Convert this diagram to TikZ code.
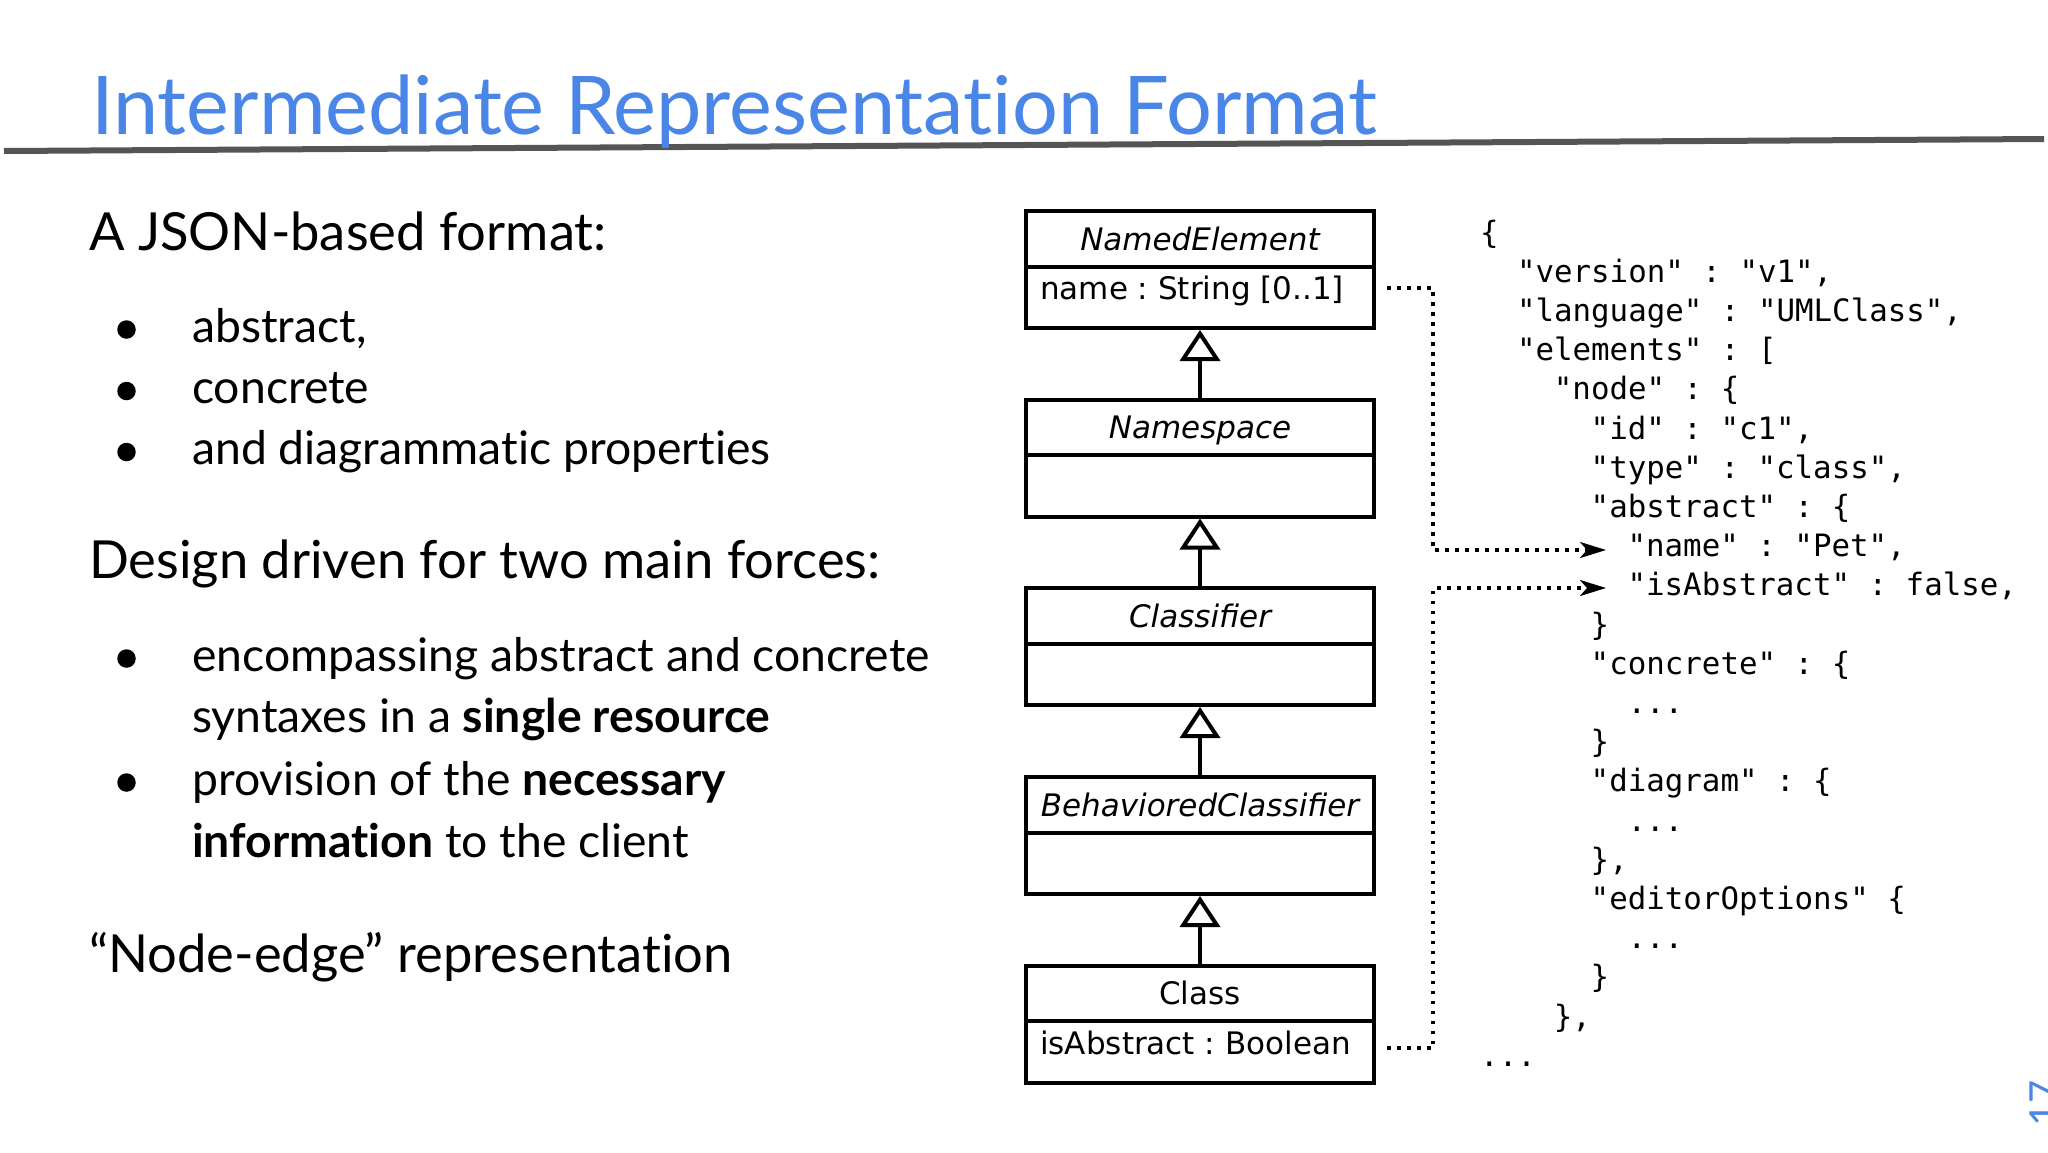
\documentclass[tikz,border=0pt]{standalone}
\usepackage{fontspec}
\setmainfont{Lato}[Ligatures={TeX,NoCommon}]
\newfontfamily\titlefont{Lato}[Ligatures={TeX,NoCommon}]
\newfontfamily\umlfont{DejaVu Sans}
\newfontfamily\monofont{DejaVu Sans Mono}
\usetikzlibrary{arrows.meta,calc}
\definecolor{titleblue}{RGB}{74,134,232}
\definecolor{rulegray}{RGB}{85,85,85}
\tikzset{
  body/.style={anchor=base west, inner sep=0pt, font=\fontsize{52.5}{60}\selectfont},
  subbody/.style={anchor=base west, inner sep=0pt, font=\fontsize{46.3}{56}\selectfont},
  bul/.style={circle, fill=black, inner sep=0pt, minimum size=18.5pt},
  cls/.style={draw, line width=4pt, minimum width=348pt, minimum height=117pt, inner sep=0pt},
  divline/.style={line width=4pt},
  hdr/.style={anchor=base, inner sep=0pt, font=\umlfont\fontsize{31}{36}\selectfont},
  attr/.style={anchor=base west, inner sep=0pt, font=\umlfont\fontsize{31}{36}\selectfont},
  gen/.style={line width=4pt, -{Triangle[open, length=31pt, width=40pt]}},
  json/.style={anchor=base west, inner sep=0pt, font=\monofont\fontsize{30.8}{38}\selectfont},
  dotconn/.style={line width=3.5pt, dash pattern=on 3.5pt off 6.5pt, -{Stealth[length=26pt, width=16pt, inset=7pt]}},
}
\begin{document}
\frenchspacing
\begin{tikzpicture}[x=1pt,y=-1pt]
\useasboundingbox (0,0) rectangle (2048,1152);
\fill[white] (0,0) rectangle (2048,1152);

% title
\draw[rulegray, line width=6pt] (4,151) -- (2044,139);
\node[anchor=base west, inner sep=0pt, text=titleblue, font=\titlefont\fontsize{81}{90}\selectfont] (title) at (91,134.5) {Intermediate Representation Format};

% left text
\node[body] (t1) at (89,250) {A JSON-based format:};
\node[bul] (b1) at (126.5,329.5) {};
\node[subbody] (t2) at (192,342) {abstract,};
\node[bul] (b2) at (126.5,391) {};
\node[subbody] (t3) at (192,403.5) {concrete};
\node[bul] (b3) at (126.5,452) {};
\node[subbody] (t4) at (192,464.5) {and diagrammatic properties};
\node[body] (t5) at (89,578) {Design driven for two main forces:};
\node[bul] (b4) at (126.5,658.5) {};
\node[subbody] (t6) at (192,671) {encompassing abstract and concrete};
\node[subbody] (t7) at (192,732) {syntaxes in a \textbf{single resource}};
\node[bul] (b5) at (126.5,782.5) {};
\node[subbody] (t8) at (192,795) {provision of the \textbf{necessary}};
\node[subbody] (t9) at (192,857) {\textbf{information} to the client};
\node[body] (t10) at (89,972) {“Node-edge” representation};

% UML classes
\node[cls] (c1) at (1200,269.5) {};
\node[cls] (c2) at (1200,458) {};
\node[cls] (c3) at (1200,646.5) {};
\node[cls] (c4) at (1200,835.5) {};
\node[cls] (c5) at (1200,1024) {};
\foreach \c in {c1,c2,c3,c4,c5}{
  \draw[divline] ($(\c.north west)+(2,57.5)$) -- ($(\c.north east)+(-2,57.5)$);
}
\node[hdr] (h1) at (1200,250) {\itshape NamedElement};
\node[hdr] (h2) at (1200,438.5) {\itshape Namespace};
\node[hdr] (h3) at (1200,627) {\itshape Classifier};
\node[hdr] (h4) at (1200,816) {\itshape BehavioredClassifier};
\node[hdr] (h5) at (1200,1004.5) {Class};
\node[attr] (a1) at (1040,299.5) {name : String [0..1]};
\node[attr] (a5) at (1040,1054) {isAbstract : Boolean};

\draw[gen] (c2.north) -- (c1.south);
\draw[gen] (c3.north) -- (c2.south);
\draw[gen] (c4.north) -- (c3.south);
\draw[gen] (c5.north) -- (c4.south);

% JSON
\node[json] (j0) at (1480,243) {\{};
\node[json] (j1) at (1516.8,282.2) {"version" : "v1",};
\node[json] (j2) at (1516.8,321.4) {"language" : "UMLClass",};
\node[json] (j3) at (1516.8,360.6) {"elements" : [};
\node[json] (j4) at (1553.7,399.8) {"node" : \{};
\node[json] (j5) at (1590.5,439.0) {"id" : "c1",};
\node[json] (j6) at (1590.5,478.2) {"type" : "class",};
\node[json] (j7) at (1590.5,517.4) {"abstract" : \{};
\node[json] (j8) at (1627.4,556.6) {"name" : "Pet",};
\node[json] (j9) at (1627.4,595.8) {"isAbstract" : false,};
\node[json] (j10) at (1590.5,635.0) {\}};
\node[json] (j11) at (1590.5,674.2) {"concrete" : \{};
\node[json] (j12) at (1627.4,713.4) {...};
\node[json] (j13) at (1590.5,752.6) {\}};
\node[json] (j14) at (1590.5,791.8) {"diagram" : \{};
\node[json] (j15) at (1627.4,831.0) {...};
\node[json] (j16) at (1590.5,870.2) {\},};
\node[json] (j17) at (1590.5,909.4) {"editorOptions" \{};
\node[json] (j18) at (1627.4,948.6) {...};
\node[json] (j19) at (1590.5,987.8) {\}};
\node[json] (j20) at (1553.7,1027.0) {\},};
\node[json] (j21) at (1480,1066.2) {...};

% dotted mapping connectors
\coordinate (s1) at (1387,288);
\coordinate (e1) at (1606,550);
\coordinate (s2) at (1387,1048);
\coordinate (e2) at (1606,588);
\draw[dotconn] (s1) -- ++(46,0) |- (e1);
\draw[dotconn] (s2) -- ++(46,0) |- (e2);

% page number
\node[rotate=90, inner sep=0pt, text=titleblue, font=\fontsize{40}{44}\selectfont] (pg) at (2044,1103) {17};
\end{tikzpicture}
\end{document}
